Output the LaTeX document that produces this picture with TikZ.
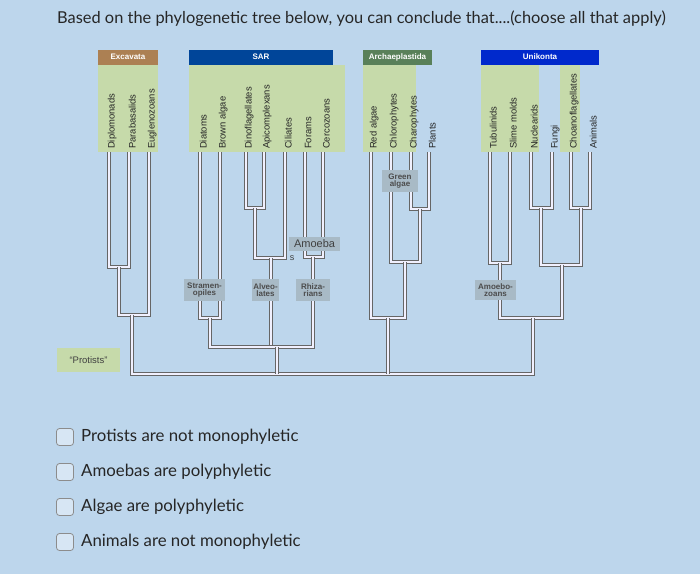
\documentclass[tikz,border=0pt]{standalone}
\usepackage{fontspec}
\setmainfont{Lato}
\newfontfamily\lab{Liberation Sans}
\begin{document}
\begin{tikzpicture}[x=1pt,y=-1pt,
  br/.style={draw=black!60,line width=1pt,double=black!8!blue!6,double distance=2.2pt,line join=miter},
  hdr/.style={inner sep=0pt,text=white,font=\lab\bfseries\fontsize{8}{9}\selectfont},
  leaf/.style={rotate=90,anchor=west,inner sep=0pt,font=\lab\fontsize{9.4}{11}\selectfont,text=black!85},
  tag/.style={fill=tagc,inner sep=1pt,align=center,font=\lab\bfseries\fontsize{8}{6.8}\selectfont,text=black!70},
  chk/.style={draw=black!45,line width=0.8pt,rounded corners=3pt,minimum size=17pt,inner sep=0pt},
  opt/.style={anchor=west,inner sep=0pt,font=\fontsize{16.8}{18}\selectfont,text=black!85}]
\definecolor{bg}{HTML}{BDD6EC}
\definecolor{grnb}{HTML}{C6DAAA}
\definecolor{tagc}{HTML}{A8BAC6}
\fill[bg] (0,0) rectangle (700,574);
\useasboundingbox (0,0) rectangle (700,574);
\node[anchor=west,inner sep=0pt,font=\fontsize{16.4}{18}\selectfont,text=black!85] (title) at (57,19) {Based on the phylogenetic tree below, you can conclude that....(choose all that apply)};
% boxes
\fill[grnb] (98,65) rectangle (158,152);
\fill[grnb] (189,65) rectangle (345,152);
\fill[grnb] (363,65) rectangle (416,152);
\fill[grnb] (481,65) rectangle (539,152);
\fill[grnb] (560,65) rectangle (580,152);
\node[hdr,fill=brown!70!gray,minimum width=60pt,minimum height=15pt] (hex) at (128,57) {Excavata};
\node[hdr,fill=blue!55!cyan!60!black,minimum width=144pt,minimum height=15pt] (hsar) at (261,57) {SAR};
\node[hdr,fill=black!50!green!30!gray,minimum width=69pt,minimum height=15pt] (harc) at (397.5,57) {Archaeplastida};
\node[hdr,fill=blue!80!cyan!80!black,minimum width=118pt,minimum height=15pt] (huni) at (540,57) {Unikonta};
% leaves
\foreach \n/\x/\t in {dip/109/Diplomonads,par/129/Parabasalids,eug/149/Euglenozoans,
  dia/200/Diatoms,bro/220/Brown algae,din/246/Dinoflagellates,api/264/Apicomplexans,cil/285/Ciliates,for/305/Forams,cer/323/Cercozoans,
  red/371/Red algae,chl/391/Chlorophytes,cha/411/Charophytes,pla/429/Plants,
  tub/490/Tubulinids,sli/510/Slime molds,nuc/531/Nuclearids,fun/552/Fungi,cho/571/Choanoflagellates,ani/590/Animals}{
  \node[leaf] (t\n) at (\x+3.3,149) {\t};
  \coordinate (\n) at (\x,152);
}
% joins
\coordinate (jdp) at (119,267); \coordinate (jex) at (132,315);
\coordinate (jst) at (210,318); \coordinate (jda) at (255,208); \coordinate (jal) at (271,258);
\coordinate (jfc) at (313,257); \coordinate (jsa) at (242,347); \coordinate (jsar) at (277,347);
\coordinate (jcp) at (420,209); \coordinate (jga) at (405,262); \coordinate (jarc) at (388,318);
\coordinate (jts) at (500,263); \coordinate (jnf) at (541,208); \coordinate (jca) at (581,208);
\coordinate (jop) at (562,265); \coordinate (juni) at (533,318);
\coordinate (root) at (277,374);
\draw[br] (dip) |- (jdp) -| (par); \draw[br] (jdp) |- (jex) -| (eug);
\draw[br] (dia) |- (jst) -| (bro); \draw[br] (din) |- (jda) -| (api); \draw[br] (jda) |- (jal) -| (cil);
\draw[br] (for) |- (jfc) -| (cer); \draw[br] (jst) |- (jsa) -| (jal); \draw[br] (jsa) |- (jsar) -| (jfc);
\draw[br] (cha) |- (jcp) -| (pla); \draw[br] (chl) |- (jga) -| (jcp); \draw[br] (red) |- (jarc) -| (jga);
\draw[br] (tub) |- (jts) -| (sli); \draw[br] (nuc) |- (jnf) -| (fun); \draw[br] (cho) |- (jca) -| (ani);
\draw[br] (jnf) |- (jop) -| (jca); \draw[br] (jts) |- (juni) -| (jop);
\draw[br] (jex) |- (root) -| (juni);
\draw[br] (jsar) -- (root); \draw[br] (jarc) -- (jarc|-root);
% tags
\node[tag,minimum width=41pt,minimum height=22pt] (tst) at (204.5,290) {Stramen-\\opiles};
\node[tag,minimum width=27pt,minimum height=22pt] (tal) at (265.5,290) {Alveo-\\lates};
\node[tag,minimum width=34pt,minimum height=22pt] (trh) at (313,290) {Rhiza-\\rians};
\node[tag,minimum width=36pt,minimum height=22pt] (tga) at (400,181) {Green\\algae};
\node[tag,minimum width=41pt,minimum height=20pt] (tam) at (495.5,290) {Amoebo-\\zoans};
\node[fill=tagc,inner sep=0pt,minimum width=51pt,minimum height=14pt,font=\lab\fontsize{11}{12}\selectfont,text=black!75] (amo) at (314.5,244) {Amoeba};
\node[inner sep=0pt,font=\lab\fontsize{9}{10}\selectfont,text=black!75] (amos) at (292,258) {s};
\node[fill=grnb,inner sep=0pt,minimum width=63pt,minimum height=24pt,font=\lab\fontsize{9.5}{10}\selectfont,text=black!75] (pro) at (88.5,360) {“Protists”};
% options
\foreach \i/\y/\t in {1/437/Protists are not monophyletic,2/472/Amoebas are polyphyletic,3/507/Algae are polyphyletic,4/542/Animals are not monophyletic}{
  \node[chk,fill=white!40!bg] (c\i) at (65,\y) {};
  \node[opt] (o\i) at (81,\y) {\t};
}
\end{tikzpicture}
\end{document}
